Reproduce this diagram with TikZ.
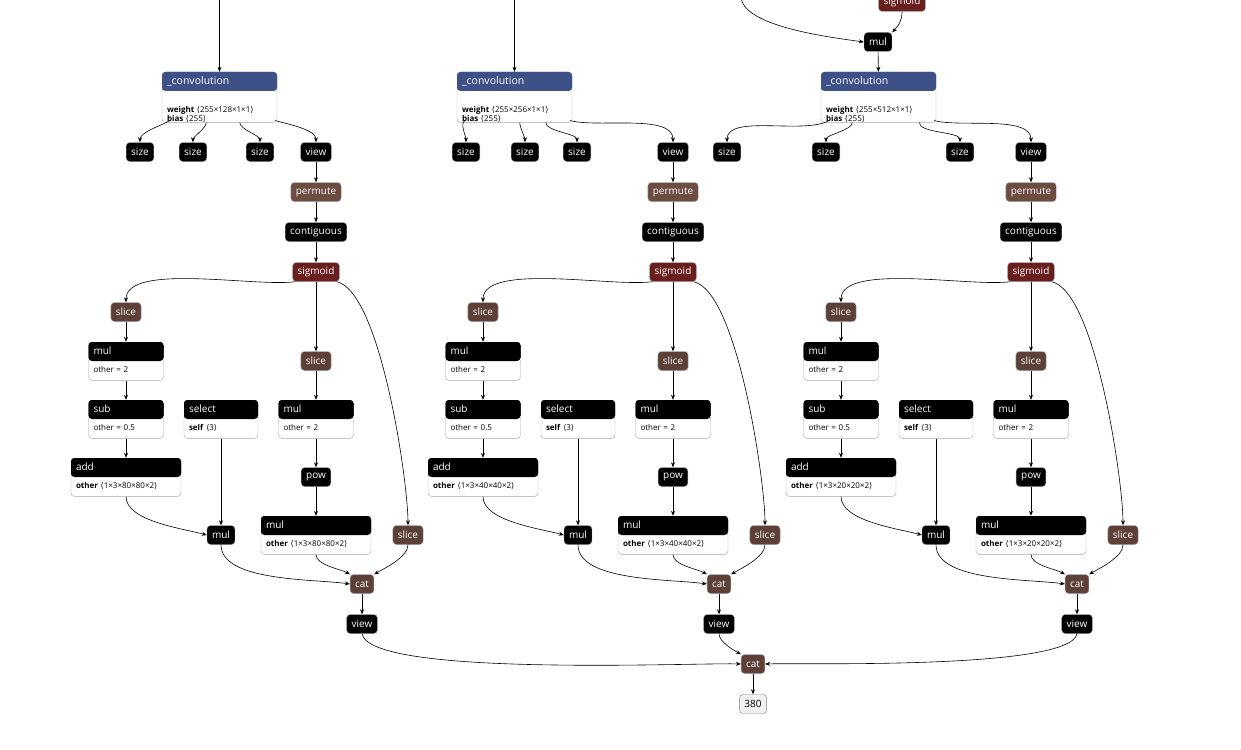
\documentclass[tikz,border=0pt]{standalone}
\usepackage{fontspec}
\setmainfont{Open Sans}
\newfontfamily\symfont{DejaVu Sans}
\usetikzlibrary{positioning,arrows.meta,calc}
\definecolor{convblue}{HTML}{3E5187}
\definecolor{permbrown}{HTML}{6D4C41}
\definecolor{slicebrown}{HTML}{5D4037}
\definecolor{sigred}{HTML}{6A1F1F}
\newcommand\la{{\symfont ⟨}}
\newcommand\ra{{\symfont ⟩}}
\tikzset{
  op/.style={draw=gray!70, rounded corners=3.5pt, fill=black, text=white,
    font=\fontsize{10}{12}\selectfont, minimum height=19pt, inner xsep=5pt, inner ysep=0pt},
  brown op/.style={op, fill=slicebrown},
  perm op/.style={op, fill=permbrown},
  sig op/.style={op, fill=sigred},
  head/.style={rounded corners=3.5pt, fill=black, text=white, font=\fontsize{10}{12}\selectfont,
    minimum height=19pt, inner xsep=5pt, inner ysep=0pt, align=left, text height=8pt, text depth=2pt},
  body/.style={draw=gray!70, rounded corners=3.5pt, fill=white, font=\fontsize{8}{10}\selectfont,
    inner xsep=5pt, inner ysep=2pt, align=left, text height=7pt, text depth=1.5pt},
  arr/.style={-{Stealth[length=5pt,width=4pt]}, black, line width=0.6pt}
}
% record node: name, position, title, body height, body text, width
\newcommand\rect[6]{%
  \node[head, text width=#6-10pt] (#1) at #2 {#3};
  \node[body, text width=#6-10pt, anchor=north, minimum height=#4] (#1-b) at ([yshift=4pt]#1.south) {\\[-9pt]#5};
  \node[head, text width=#6-10pt] at #2 {#3};
}
% one detection head: prefix, x shift, conv x, weight, size x's, dims
\newcommand\branch[9]{%
  \begin{scope}[xshift=#2]
    % convolution
    \node[head, fill=convblue, text width=105pt, font=\fontsize{10.5}{12}\selectfont] (#1conv) at (#3-#2,81.5) {\_convolution};
    \node[body, text width=105pt, anchor=north, minimum height=35pt] (#1conv-b) at ([yshift=4pt]#1conv.south)
      {\\[-5pt]\textbf{weight} \la#4\ra\\[-1pt]\textbf{bias} \la255\ra};
    \node[head, fill=convblue, text width=105pt, font=\fontsize{10.5}{12}\selectfont] at (#3-#2,81.5) {\_convolution};
    \node[op] (#1s1) at (#5-#2,152) {size};
    \node[op] (#1s2) at (#6-#2,152) {size};
    \node[op] (#1s3) at (#7-#2,152) {size};
    \node[op] (#1view) at (316,152) {view};
    \node[perm op] (#1perm) at (316,192) {permute};
    \node[op] (#1cont) at (316,232) {contiguous};
    \node[sig op] (#1sig) at (316,272) {sigmoid};
    % xy branch
    \node[brown op] (#1slA) at (126,312) {slice};
    \rect{#1mulA}{(126,351.5)}{mul}{23pt}{other = 2}{75pt}
    \rect{#1sub}{(126,409.5)}{sub}{23pt}{other = 0.5}{75pt}
    \rect{#1add}{(126,467.5)}{add}{23pt}{\textbf{other} \la1×3×#8×#8×2\ra}{110pt}
    \rect{#1sel}{(221,409.5)}{select}{23pt}{\textbf{self} \la3\ra}{74pt}
    \node[op] (#1mulB) at (221,535) {mul};
    % wh branch
    \node[brown op] (#1slB) at (316,361) {slice};
    \rect{#1mulC}{(316,409.5)}{mul}{23pt}{other = 2}{75pt}
    \node[op] (#1pow) at (316,477) {pow};
    \rect{#1mulD}{(316,525.5)}{mul}{23pt}{\textbf{other} \la1×3×#8×#8×2\ra}{110pt}
    \node[brown op] (#1slC) at (408,535) {slice};
    \node[brown op] (#1cat) at (362,584) {cat};
    \node[op] (#1out) at (362,624) {view};
    % edges
    \draw[arr] (#1conv-b.south west) ++(8,-2) to[out=-150,in=90,looseness=0.7] (#1s1.north);
    \draw[arr] ($(#1conv-b.south)!0.5!(#1conv-b.south -| #1s2)$) to[out=-90,in=90,looseness=0.6] (#1s2.north);
    \draw[arr] ($(#1conv-b.south)!0.5!(#1conv-b.south -| #1s3)$) to[out=-90,in=90,looseness=0.6] (#1s3.north);
    \draw[arr] (#1conv-b.south east) ++(-2,-2) to[out=-15,in=90,looseness=0.7] (#1view.north);
    \draw[arr] (#1view) -- (#1perm);
    \draw[arr] (#1perm) -- (#1cont);
    \draw[arr] (#1cont) -- (#1sig);
    \draw[arr] (#1sig.south west) ++(3,0) to[out=188,in=90,looseness=0.6] (#1slA.north);
    \draw[arr] (#1sig) -- (#1slB);
    \draw[arr] (#1sig.south east) ++(-3,0) to[out=-12,in=90,looseness=0.45] (#1slC.north);
    \draw[arr] (#1slA) -- (#1mulA);
    \draw[arr] (#1mulA-b) -- (#1sub);
    \draw[arr] (#1sub-b) -- (#1add);
    \draw[arr] (#1add-b.south) to[out=-90,in=165,looseness=0.7] (#1mulB.west);
    \draw[arr] (#1sel-b) -- (#1mulB);
    \draw[arr] (#1slB) -- (#1mulC);
    \draw[arr] (#1mulC-b) -- (#1pow);
    \draw[arr] (#1pow) -- (#1mulD);
    \draw[arr] (#1mulB.south) to[out=-90,in=172,looseness=0.7] (#1cat.west);
    \draw[arr] (#1mulD-b.south) to[out=-90,in=150,looseness=0.7] (#1cat.north west);
    \draw[arr] (#1slC.south) to[out=-90,in=30,looseness=0.7] (#1cat.north east);
    \draw[arr] (#1cat) -- (#1out);
  \end{scope}
}
\begin{document}
\begin{tikzpicture}[x=1pt,y=-1pt]
  \useasboundingbox (0,0) rectangle (1241,749);
  \branch{a}{0}{219.5}{255×128×1×1}{140}{193}{260}{80}{}
  \branch{b}{357}{514.5}{255×256×1×1}{466}{525}{577}{40}{}
  \branch{c}{715}{878.5}{255×512×1×1}{727}{826}{960}{20}{}
  % inputs from above
  \coordinate (atop) at (219.5,0);
  \coordinate (btop) at (514.5,0);
  \coordinate (ctop) at (741,-4);
  \node[sig op] (csigin) at (902,2) {sigmoid};
  \node[op] (cmulin) at (878,42) {mul};
  \draw[arr] (atop) -- (aconv);
  \draw[arr] (btop) -- (bconv);
  \draw[arr] (ctop) to[out=-90,in=172,looseness=0.6] (cmulin.west);
  \draw[arr] (csigin.south) to[out=-90,in=45] (cmulin.north east);
  \draw[arr] (cmulin) -- (cconv);
  % final concat
  \node[brown op] (fcat) at (753,664) {cat};
  \node[op, fill=gray!10, text=black, draw=gray] (res) at (753,704) {380};
  \draw[arr] (aout.south) to[out=-80,in=178,looseness=0.3] (fcat.west);
  \draw[arr] (bout.south) to[out=-90,in=150,looseness=0.7] (fcat.north west);
  \draw[arr] (cout.south) to[out=-100,in=2,looseness=0.3] (fcat.east);
  \draw[arr] (fcat) -- (res);
\end{tikzpicture}
\end{document}
